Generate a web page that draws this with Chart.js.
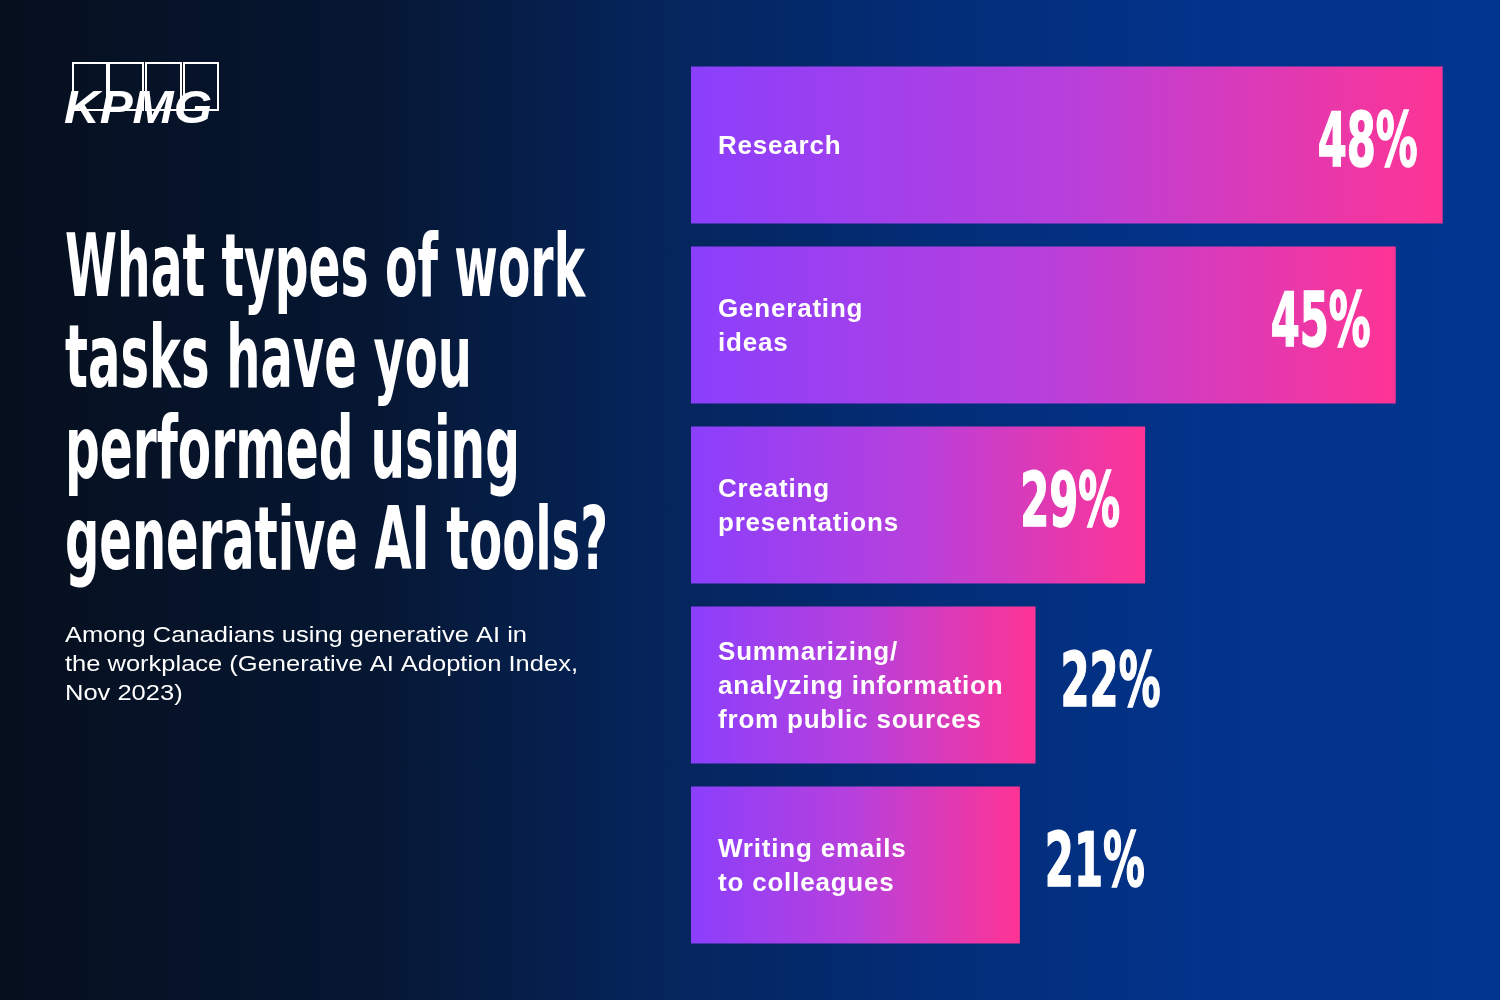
<!DOCTYPE html>
<html>
<head>
<meta charset="utf-8">
<script src="https://cdn.jsdelivr.net/npm/chart.js@4.4.1/dist/chart.umd.min.js"></script>
<style>
  html, body { margin: 0; padding: 0; }
  body {
    width: 1500px; height: 1000px; overflow: hidden;
    background: linear-gradient(90deg, #060f1e 0%, #061733 25%, #05245a 43%, #032d77 62%, #02338c 82%, #02358f 100%);
  }
  canvas { display: block; }
</style>
</head>
<body>
<canvas id="grafico" width="1500" height="1000"></canvas>
<script>
const categorias = [
  ['Research'],
  ['Generating', 'ideas'],
  ['Creating', 'presentations'],
  ['Summarizing/', 'analyzing information', 'from public sources'],
  ['Writing emails', 'to colleagues']
];
const valores = [48, 45, 29, 22, 21];
const tituloLinhas = ['What types of work', 'tasks have you', 'performed using', 'generative AI tools?'];
const subtituloLinhas = ['Among Canadians using generative AI in', 'the workplace (Generative AI Adoption Index,', 'Nov 2023)'];

const fonteCondensada = "'Liberation Sans Narrow', 'DejaVu Sans Condensed', 'Liberation Sans', sans-serif";
const fonteTexto = "'Liberation Sans', Arial, sans-serif";

// texto esticado/comprimido para caber numa largura
function textoAjustado(ctx, texto, x, y, largura) {
  const w = ctx.measureText(texto).width;
  ctx.save();
  ctx.translate(x, y);
  ctx.scale(largura / w, 1);
  ctx.fillText(texto, 0, 0);
  ctx.restore();
}

function textoEscala(ctx, texto, x, y, escala, alinhar, contorno) {
  const w = ctx.measureText(texto).width * escala;
  const x0 = alinhar === 'right' ? x - w : x;
  ctx.save();
  ctx.translate(x0, y);
  ctx.scale(escala, 1);
  ctx.fillText(texto, 0, 0);
  if (contorno) {
    ctx.lineWidth = contorno;
    ctx.strokeText(texto, 0, 0);
  }
  ctx.restore();
}

const pluginTextos = {
  id: 'pluginTextos',
  beforeDatasetsDraw(chart) {
    const ctx = chart.ctx;
    ctx.save();
    ctx.fillStyle = '#ffffff';
    ctx.strokeStyle = '#ffffff';
    ctx.textAlign = 'left';
    ctx.textBaseline = 'alphabetic';

    // logo
    ctx.lineWidth = 2;
    [[73, 107], [109, 143], [146, 181], [184, 218]].forEach(([a, b]) => {
      ctx.strokeRect(a, 63, b - a, 47);
    });
    ctx.font = 'italic bold 46px ' + fonteTexto;
    textoAjustado(ctx, 'KPMG', 64, 123, 148);

    // titulo
    const largurasTitulo = [520, 407, 455, 543];
    ctx.font = 'bold 88px ' + fonteCondensada;
    tituloLinhas.forEach((linha, i) => {
      textoAjustado(ctx, linha, 65, 296 + i * 91, largurasTitulo[i]);
    });

    // subtitulo
    ctx.font = '22px ' + fonteTexto;
    const escalaSub = 462 / ctx.measureText(subtituloLinhas[0]).width;
    subtituloLinhas.forEach((linha, i) => {
      textoEscala(ctx, linha, 65, 642 + i * 29, escalaSub, 'left');
    });
    ctx.restore();
  },
  afterDatasetsDraw(chart) {
    const ctx = chart.ctx;
    const meta = chart.getDatasetMeta(0);
    ctx.save();
    ctx.fillStyle = '#ffffff';
    ctx.strokeStyle = '#ffffff';
    ctx.textBaseline = 'alphabetic';

    ctx.font = 'bold 75px ' + fonteCondensada;
    const escalaValor = 100 / ctx.measureText('48%').width;

    meta.data.forEach((barra, i) => {
      const yc = barra.y;
      const linhas = categorias[i];

      ctx.font = 'bold 26px ' + fonteTexto;
      ctx.letterSpacing = '0.8px';
      ctx.textAlign = 'left';
      const y0 = yc - (linhas.length - 1) * 17 + 9;
      linhas.forEach((l, j) => ctx.fillText(l, barra.base + 27, y0 + j * 34));
      ctx.letterSpacing = '0px';

      ctx.font = 'bold 75px ' + fonteCondensada;
      const texto = valores[i] + '%';
      if (valores[i] > 25) {
        textoEscala(ctx, texto, barra.x - 25, yc + 21, escalaValor, 'right', 1.5);
      } else {
        textoEscala(ctx, texto, barra.x + 25, yc + 21, escalaValor, 'left', 1.5);
      }
    });
    ctx.restore();
  }
};

function corBarra(context) {
  const chart = context.chart;
  if (!chart.chartArea || !chart.scales.x) return '#b03fd0';
  const x0 = chart.scales.x.getPixelForValue(0);
  const x1 = chart.scales.x.getPixelForValue(valores[context.dataIndex]);
  const g = chart.ctx.createLinearGradient(x0, 0, x1, 0);
  g.addColorStop(0, '#8b3ffc');
  g.addColorStop(0.5, '#b840dc');
  g.addColorStop(1, '#fe3494');
  return g;
}

const ctxGrafico = document.getElementById('grafico').getContext('2d');
new Chart(ctxGrafico, {
  type: 'bar',
  data: {
    labels: categorias,
    datasets: [{
      data: valores,
      backgroundColor: corBarra,
      borderWidth: 0,
      barPercentage: 157 / 180,
      categoryPercentage: 1
    }]
  },
  options: {
    responsive: false,
    animation: false,
    indexAxis: 'y',
    layout: { padding: { left: 691, right: 26, top: 55, bottom: 45 } },
    scales: {
      x: { display: false, min: 0, max: 50 },
      y: { display: false }
    },
    plugins: {
      legend: { display: false },
      tooltip: { enabled: false }
    }
  },
  plugins: [pluginTextos]
});
</script>
</body>
</html>
